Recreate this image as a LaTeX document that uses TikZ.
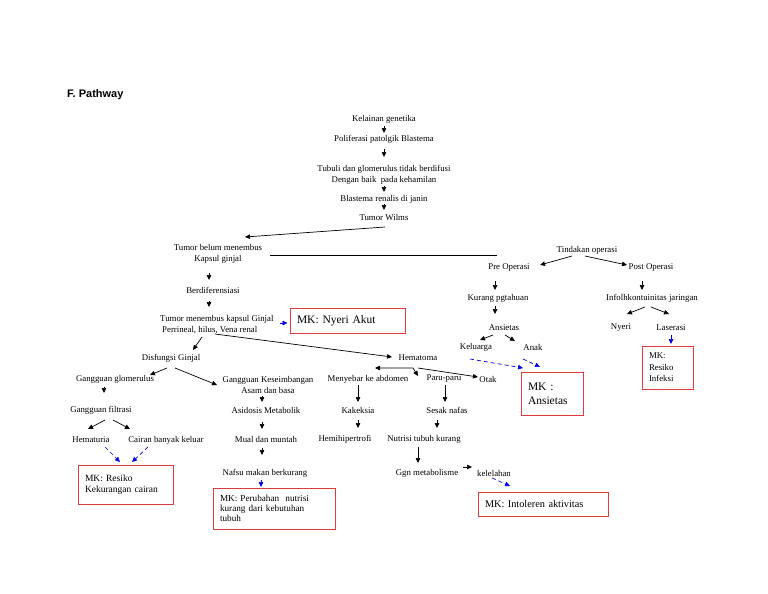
\documentclass[tikz,border=0pt]{standalone}
\usepackage{fontspec}
\setmainfont{Liberation Serif}
\newfontfamily\arialfont{Liberation Sans}
\usetikzlibrary{arrows.meta}
\definecolor{mkred}{RGB}{220,60,60}
\definecolor{mkblue}{RGB}{0,0,235}
\begin{document}
\begin{tikzpicture}[x=1pt,y=-1pt,
  lbl/.style={inner sep=0pt, font=\fontsize{8.8}{11}\selectfont, align=center},
  mkbox/.style={draw=mkred, line width=1pt, inner xsep=7pt, inner ysep=2pt, align=left},
  arr/.style={line width=0.7pt, -{Triangle[length=5pt,width=4.5pt]}},
  dblarr/.style={line width=0.7pt, {Triangle[length=5pt,width=4.5pt]}-{Triangle[length=5pt,width=4.5pt]}},
  barr/.style={draw=mkblue, line width=0.7pt, -{Triangle[length=5pt,width=4.5pt]}},
  bdash/.style={barr, dash pattern=on 4pt off 3pt}
]
\useasboundingbox[fill=white] (0,0) rectangle (768,594);

\node[anchor=west, inner sep=0pt, font=\arialfont\bfseries\fontsize{11}{13}\selectfont] (title) at (67,94.5) {F. Pathway};

% main column
\node[lbl] (kel) at (384,119) {Kelainan genetika};
\node[lbl] (pol) at (384,139) {Poliferasi patolgik Blastema};
\node[lbl] (tub) at (384,174.5) {Tubuli dan glomerulus tidak berdifusi\\Dengan baik\ \ pada kehamilan};
\node[lbl] (bla) at (384,199) {Blastema renalis di janin};
\node[lbl] (wil) at (384,218) {Tumor Wilms};

% left branch
\node[lbl] (tbm) at (218,254) {Tumor belum menembus\\Kapsul ginjal};
\coordinate (hl) at (497,255);
\node[lbl] (ber) at (213,290) {Berdiferensiasi};
\node[lbl, anchor=west, align=left] (tmk) at (160,324.5) {Tumor menembus kapsul Ginjal\\\hspace{2pt}Perrineal, hilus, Vena renal};
\node[mkbox, minimum width=115, minimum height=25, text width=101, font=\fontsize{11.5}{14}\selectfont] (nak) at (347.5,320.5) {MK: Nyeri Akut};

\node[lbl] (dis) at (171,358) {Disfungsi Ginjal};
\node[lbl] (ggl) at (115,379) {Gangguan glomerulus};
\node[lbl] (gfil) at (101,410) {Gangguan filtrasi};
\node[lbl] (hem) at (91,440) {Hematuria};
\node[lbl] (cai) at (166,440) {Cairan banyak keluar};
\node[mkbox, minimum width=95, minimum height=39, text width=81, font=\fontsize{9.5}{11}\selectfont] (box1) at (125.5,484.5) {MK: Resiko\\Kekurangan cairan};

\node[lbl] (gkas) at (268,384.5) {Gangguan Keseimbangan\\Asam dan basa};
\node[lbl] (asid) at (266,410) {Asidosis Metabolik};
\node[lbl] (mual) at (266,439) {Mual dan muntah};
\node[lbl] (naf) at (265,473) {Nafsu makan berkurang};
\node[mkbox, minimum width=122, minimum height=41, text width=108, font=\fontsize{9.2}{9.8}\selectfont] (box2) at (274,508.5) {MK: Perubahan\ \ nutrisi\\kurang dari kebutuhan\\tubuh};

% hematoma branch
\node[lbl] (hmt) at (418,358) {Hematoma};
\node[lbl] (meny) at (368,379) {Menyebar ke abdomen};
\node[lbl] (paru) at (444,379) {Paru-paru};
\node[lbl] (otak) at (488,379) {Otak};
\node[lbl] (kak) at (358,410) {Kakeksia};
\node[lbl] (hemi) at (345,439) {Hemihipertrofi};
\node[lbl] (ses) at (447,410) {Sesak nafas};
\node[lbl] (nut) at (424,439) {Nutrisi tubuh kurang};
\node[lbl] (ggn) at (427,473) {Ggn metabolisme};
\node[lbl] (kel2) at (494,473) {kelelahan};
\node[mkbox, minimum width=130, minimum height=24, text width=116, font=\fontsize{10.3}{12}\selectfont] (box3) at (543,504) {MK: Intoleren aktivitas};

% right branch
\node[lbl] (tin) at (587,250) {Tindakan operasi};
\node[lbl] (pre) at (509,268) {Pre Operasi};
\node[lbl] (post) at (651,268) {Post Operasi};
\node[lbl] (kp) at (498,298) {Kurang pgtahuan};
\node[lbl] (ans) at (504,328) {Ansietas};
\node[lbl] (klg) at (476,347) {Keluarga};
\node[lbl] (anak) at (533,347) {Anak};
\node[mkbox, minimum width=62, minimum height=43, text width=48, font=\fontsize{11.5}{14}\selectfont] (box4) at (552,393.5) {MK :\\Ansietas};
\node[lbl] (inf) at (652,298) {Infolhkontuinitas jaringan};
\node[lbl] (nyeri) at (621,328) {Nyeri};
\node[lbl] (las) at (671,328) {Laserasi};
\node[mkbox, minimum width=51, minimum height=43, text width=37, font=\fontsize{8.8}{11.5}\selectfont] (box5) at (667.5,367.5) {MK:\\Resiko\\Infeksi};

% connectors
\draw[arr] ([shift={(0,7)}]kel.center) -- ([shift={(0,-6)}]pol.center);
\draw[arr] ([shift={(0,10)}]pol.center) -- ([shift={(0,-17.5)}]tub.center);
\draw[arr] ([shift={(0,11.5)}]tub.center) -- ([shift={(0,-7)}]bla.center);
\draw[arr] ([shift={(0,5)}]bla.center) -- ([shift={(0,-8)}]wil.center);
\draw[arr] ([shift={(1,9)}]wil.center) -- ([shift={(27,-17)}]tbm.center);
\draw[line width=0.7pt] ([shift={(52,1)}]tbm.center) -- (hl);
\draw[arr] ([shift={(-9,19)}]tbm.center) -- ([shift={(-4,-10)}]ber.center);
\draw[arr] ([shift={(-4,11)}]ber.center) -- ([shift={(49,-17.5)}]tmk.west);
\draw[barr] ([shift={(120,-1.5)}]tmk.west) -- ([shift={(-2,2.5)}]nak.west);
\draw[arr] ([shift={(42,12.5)}]tmk.west) -- ([shift={(22,-8)}]dis.center);
\draw[arr] ([shift={(55,9.5)}]tmk.west) -- ([shift={(-26,-1)}]hmt.center);

\draw[arr] ([shift={(-4,10)}]dis.center) -- ([shift={(35,-4)}]ggl.center);
\draw[arr] ([shift={(4,10)}]dis.center) -- ([shift={(-51,0.5)}]gkas.center);
\draw[arr] ([shift={(-11,8)}]ggl.center) -- ([shift={(3,-17)}]gfil.center);
\draw[arr] ([shift={(4,10)}]gfil.center) -- ([shift={(-3,-11)}]hem.center);
\draw[arr] ([shift={(12,10)}]gfil.center) -- ([shift={(-36,-11)}]cai.center);
\draw[bdash] ([shift={(14,7)}]hem.center) -- ([shift={(-5.5,-22.5)}]box1.center);
\draw[bdash] ([shift={(-18,7)}]cai.center) -- ([shift={(6.5,-22.5)}]box1.center);

\draw[arr] ([shift={(-6,11.5)}]gkas.center) -- ([shift={(-4,-8)}]asid.center);
\draw[arr] ([shift={(-4,12)}]asid.center) -- ([shift={(-4,-10)}]mual.center);
\draw[arr] ([shift={(-4,9)}]mual.center) -- ([shift={(-3,-18)}]naf.center);
\draw[barr] ([shift={(-4,7)}]naf.center) -- ([shift={(-13,-21.5)}]box2.center);

\draw[dblarr] ([shift={(7,-11)}]meny.center) -- ([shift={(-5,10)}]hmt.center) -- ([shift={(-26,-3)}]paru.center);
\draw[arr] ([shift={(0,10)}]hmt.center) -- ([shift={(-10,-2)}]otak.center);
\draw[arr] ([shift={(-10,6)}]meny.center) -- ([shift={(0,-8)}]kak.center);
\draw[arr] ([shift={(0,10)}]kak.center) -- ([shift={(13,-11)}]hemi.center);
\draw[arr] ([shift={(1,6)}]paru.center) -- ([shift={(-2,-8)}]ses.center);
\draw[arr] ([shift={(-10,10)}]ses.center) -- ([shift={(13,-11)}]nut.center);
\draw[arr] ([shift={(-6,8)}]nut.center) -- ([shift={(-9,-10)}]ggn.center);
\draw[arr] ([shift={(36,-6)}]ggn.center) -- ([shift={(-22,-6)}]kel2.center);
\draw[bdash] ([shift={(-2,5)}]kel2.center) -- ([shift={(-33,-18)}]box3.center);

\draw[arr] ([shift={(-15,6)}]tin.center) -- ([shift={(31,-3)}]pre.center);
\draw[arr] ([shift={(-2,6)}]tin.center) -- ([shift={(-24,-3)}]post.center);
\draw[arr] ([shift={(-14,13)}]pre.center) -- ([shift={(-3,-8)}]kp.center);
\draw[arr] ([shift={(-3,8)}]kp.center) -- ([shift={(-9,-14)}]ans.center);
\draw[arr] ([shift={(-11,7)}]ans.center) -- ([shift={(4,-7)}]klg.center);
\draw[arr] ([shift={(1,7)}]ans.center) -- ([shift={(-18,-6)}]anak.center);
\draw[bdash] ([shift={(-6,12)}]klg.center) -- ([shift={(-29,-25.5)}]box4.center);
\draw[bdash] ([shift={(-10,12)}]anak.center) -- ([shift={(-12,-26.5)}]box4.center);
\draw[arr] ([shift={(-9,13)}]post.center) -- ([shift={(-10,-8)}]inf.center);
\draw[arr] ([shift={(-7,9)}]inf.center) -- ([shift={(6,-14)}]nyeri.center);
\draw[arr] ([shift={(-1,9)}]inf.center) -- ([shift={(-2,-14)}]las.center);
\draw[barr] ([shift={(0,7)}]las.center) -- ([shift={(3.5,-23.5)}]box5.center);
\end{tikzpicture}
\end{document}
